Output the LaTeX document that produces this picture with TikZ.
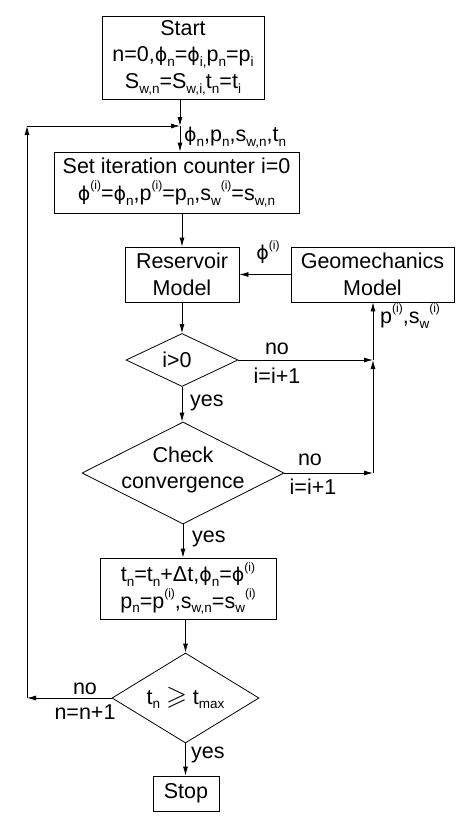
\documentclass[tikz,border=0pt]{standalone}
\usepackage{fontspec}
\setmainfont{Liberation Sans}
\newfontfamily\phifont{DejaVu Sans}
\usepackage{amssymb}
\usetikzlibrary{shapes.geometric,arrows.meta}
\newcommand\lo[1]{\raisebox{-0.22em}{\fontsize{13.5}{13.5}\selectfont #1}}
\newcommand\hi[1]{\raisebox{0.5em}{\fontsize{12}{12}\selectfont #1}}
\newcommand\ph{{\phifont\fontsize{19}{19}\selectfont ϕ}}
\begin{document}
\begin{tikzpicture}[x=1pt,y=-1pt,
  font=\fontsize{21.5}{26.5}\selectfont,
  box/.style={draw, line width=0.8pt, inner sep=0pt, align=center},
  dia/.style={draw, diamond, line width=0.8pt, inner sep=0pt},
  arr/.style={-{Latex[length=9pt,width=5pt]}, line width=0.8pt},
  lbl/.style={inner sep=0pt}]
\useasboundingbox (0,0) rectangle (474,825);
% nodes
\node[box, minimum width=162, minimum height=83] (start) at (183,57.5)
  {Start\\n=0,\ph\lo{n}=\ph\lo{i,}p\lo{n}=p\lo{i}\\S\lo{w,n}=S\lo{w,i,}t\lo{n}=t\lo{i}};
\node[box, minimum width=245, minimum height=61] (set) at (176.5,182.5)
  {Set iteration counter i=0\\\ph\hi{(i)}=\ph\lo{n},p\hi{(i)}=p\lo{n},s\lo{w}\hi{(i)}=s\lo{w,n}};
\node[box, minimum width=114, minimum height=55] (res) at (182,274.5) {Reservoir\\Model};
\node[box, minimum width=163, minimum height=55] (geo) at (372.5,274.5) {Geomechanics\\Model};
\node[dia, minimum width=112, minimum height=53] (ig) at (182,360) {};
\node[lbl] (igt) at (177,360) {i>0};
\node[dia, minimum width=202, minimum height=102] (conv) at (183,473) {};
\node[lbl, align=center] (convt) at (183,470) {Check\\convergence};
\node[box, minimum width=176, minimum height=61] (upd) at (188,588.5)
  {t\lo{n}=t\lo{n}+Δt,\ph\lo{n}=\ph\hi{(i)}\\p\lo{n}=p\hi{(i)},s\lo{w,n}=s\lo{w}\hi{(i)}};
\node[dia, minimum width=147, minimum height=90] (tm) at (185.5,698) {};
\node[lbl] (tmt) at (185.5,698) {t\lo{n} {\fontsize{27}{27}\selectfont$\geqslant$} t\lo{max}};
\node[box, minimum width=66, minimum height=35] (stop) at (186,793.5) {Stop};
% coordinates
\coordinate (j) at (180,126);
\coordinate (lt) at (27,126);
\coordinate (lb) at (27,698);
\coordinate (m1) at (373,360);
\coordinate (m2) at (373,473);
% connectors
\draw[arr] (start.south -| j) -- (j);
\draw[arr] (j) -- (set.north -| j);
\draw[arr] (lt) -- (j);
\draw[arr] (lb) -- (lt);
\draw[arr] (tm.west) -- (lb);
\draw[arr] (set.south -| res) -- (res.north);
\draw[arr] (geo.west) -- (res.east);
\draw[arr] (res.south) -- (ig.north);
\draw[arr] (ig.south) -- (ig.south |- conv.north);
\draw[arr] (conv.south) -- (conv.south |- upd.north);
\draw[arr] (upd.south -| tm) -- (tm.north);
\draw[arr] (tm.south) -- (tm.south |- stop.north);
\draw[arr] (ig.east) -- (m1);
\draw[arr] (conv.east) -- (m2);
\draw[arr] (m2) -- (m1);
\draw[arr] (m1) -- (geo.south -| m1);
% labels
\node[lbl, anchor=west] (l1) at (184,138) {\ph\lo{n},p\lo{n},s\lo{w,n},t\lo{n}};
\node[lbl] (l2) at (268,252) {\ph\hi{(i)}};
\node[lbl, anchor=west] (l3) at (380,316) {p\hi{(i)},s\lo{w}\hi{(i)}};
\node[lbl] (l4) at (277,349) {no};
\node[lbl] (l5) at (277,376) {i=i+1};
\node[lbl, anchor=west] (l6) at (190,403) {yes};
\node[lbl] (l7) at (310,460) {no};
\node[lbl] (l8) at (313,487) {i=i+1};
\node[lbl, anchor=west] (l9) at (192,539) {yes};
\node[lbl] (l10) at (85,689) {no};
\node[lbl] (l11) at (85,712) {n=n+1};
\node[lbl, anchor=west] (l12) at (191,755) {yes};
\end{tikzpicture}
\end{document}
